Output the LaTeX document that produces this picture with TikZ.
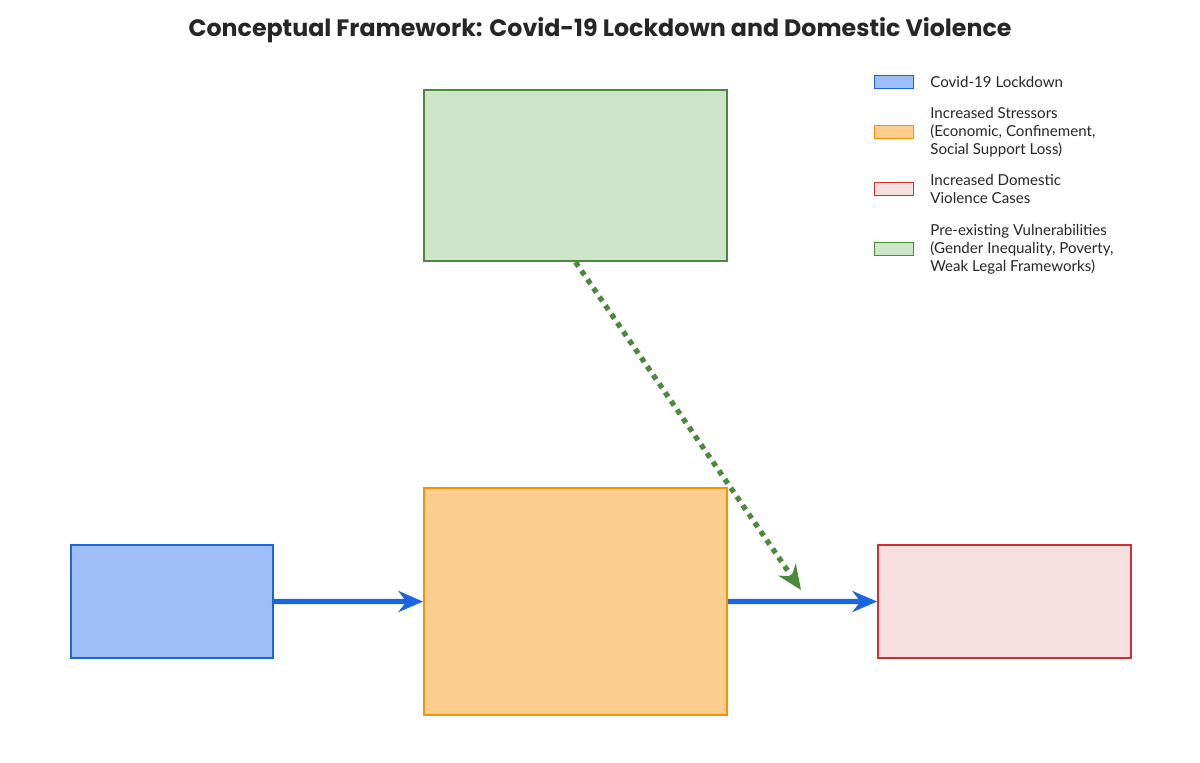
\documentclass[tikz,border=0pt]{standalone}
\usepackage{fontspec}
\setmainfont{Lato}
\newfontfamily\titlefont{Poppins}
\usetikzlibrary{arrows.meta}
\definecolor{lockblue}{HTML}{1A66E0}
\definecolor{lockfill}{HTML}{9DBFF5}
\definecolor{stressor}{HTML}{F59300}
\definecolor{stressfill}{HTML}{FDCD90}
\definecolor{violred}{HTML}{D03030}
\definecolor{violfill}{HTML}{F8E0E0}
\definecolor{vulngreen}{HTML}{4A8A3A}
\definecolor{vulnfill}{HTML}{CFE5C8}
\definecolor{inkgray}{HTML}{262626}

\begin{document}
\begin{tikzpicture}[x=0.02cm, y=-0.02cm,
  box/.style={draw, line width=1.2pt, inner sep=0pt, anchor=north west},
  swatch/.style={draw, line width=1pt, minimum width=0.78cm, minimum height=0.26cm, inner sep=0pt},
  legtext/.style={anchor=west, align=left, font=\fontsize{8.6}{10.3}\selectfont, text=inkgray, inner sep=0pt},
  flow/.style={line width=3pt, lockblue, -{Stealth[length=14pt, width=12pt]}}]

%─────────────
% Frame and title
%─────────────
\useasboundingbox (0,0) rectangle (1200,763);
\node[font=\titlefont\bfseries\fontsize{13.5}{16}\selectfont, text=inkgray] (title) at (600,30)
  {Conceptual Framework: Covid-19 Lockdown and Domestic Violence};

%─────────────
% Boxes
%─────────────
\node[box, draw=vulngreen, fill=vulnfill, minimum width=6.06cm, minimum height=3.42cm] (vuln) at (423,89) {};
\node[box, draw=stressor, fill=stressfill, minimum width=6.06cm, minimum height=4.54cm] (stress) at (423,487) {};
\node[box, draw=lockblue, fill=lockfill, minimum width=4.04cm, minimum height=2.26cm] (lock) at (70,544) {};
\node[box, draw=violred, fill=violfill, minimum width=5.06cm, minimum height=2.26cm] (viol) at (877,544) {};

%─────────────
% Connectors
%─────────────
\coordinate (vulnend) at (801,590);
\draw[flow] (lock.east) -- (stress.west);
\draw[flow] (stress.east) -- (viol.west);
\draw[line width=3pt, vulngreen, dashed, -{Stealth[length=14pt, width=12pt]}]
  (vuln.south) -- (vulnend);

%─────────────
% Legend
%─────────────
\node[swatch, draw=lockblue, fill=lockfill] (leglock) at (894,82) {};
\node[legtext] (tlock) at (930,82) {Covid-19 Lockdown};
\node[swatch, draw=stressor, fill=stressfill] (legstress) at (894,132) {};
\node[legtext] (tstress) at (930,132) {Increased Stressors\\(Economic, Confinement,\\Social Support Loss)};
\node[swatch, draw=violred, fill=violfill] (legviol) at (894,189) {};
\node[legtext] (tviol) at (930,189) {Increased Domestic\\Violence Cases};
\node[swatch, draw=vulngreen, fill=vulnfill] (legvuln) at (894,249) {};
\node[legtext] (tvuln) at (930,249) {Pre-existing Vulnerabilities\\(Gender Inequality, Poverty,\\Weak Legal Frameworks)};

\end{tikzpicture}
\end{document}
